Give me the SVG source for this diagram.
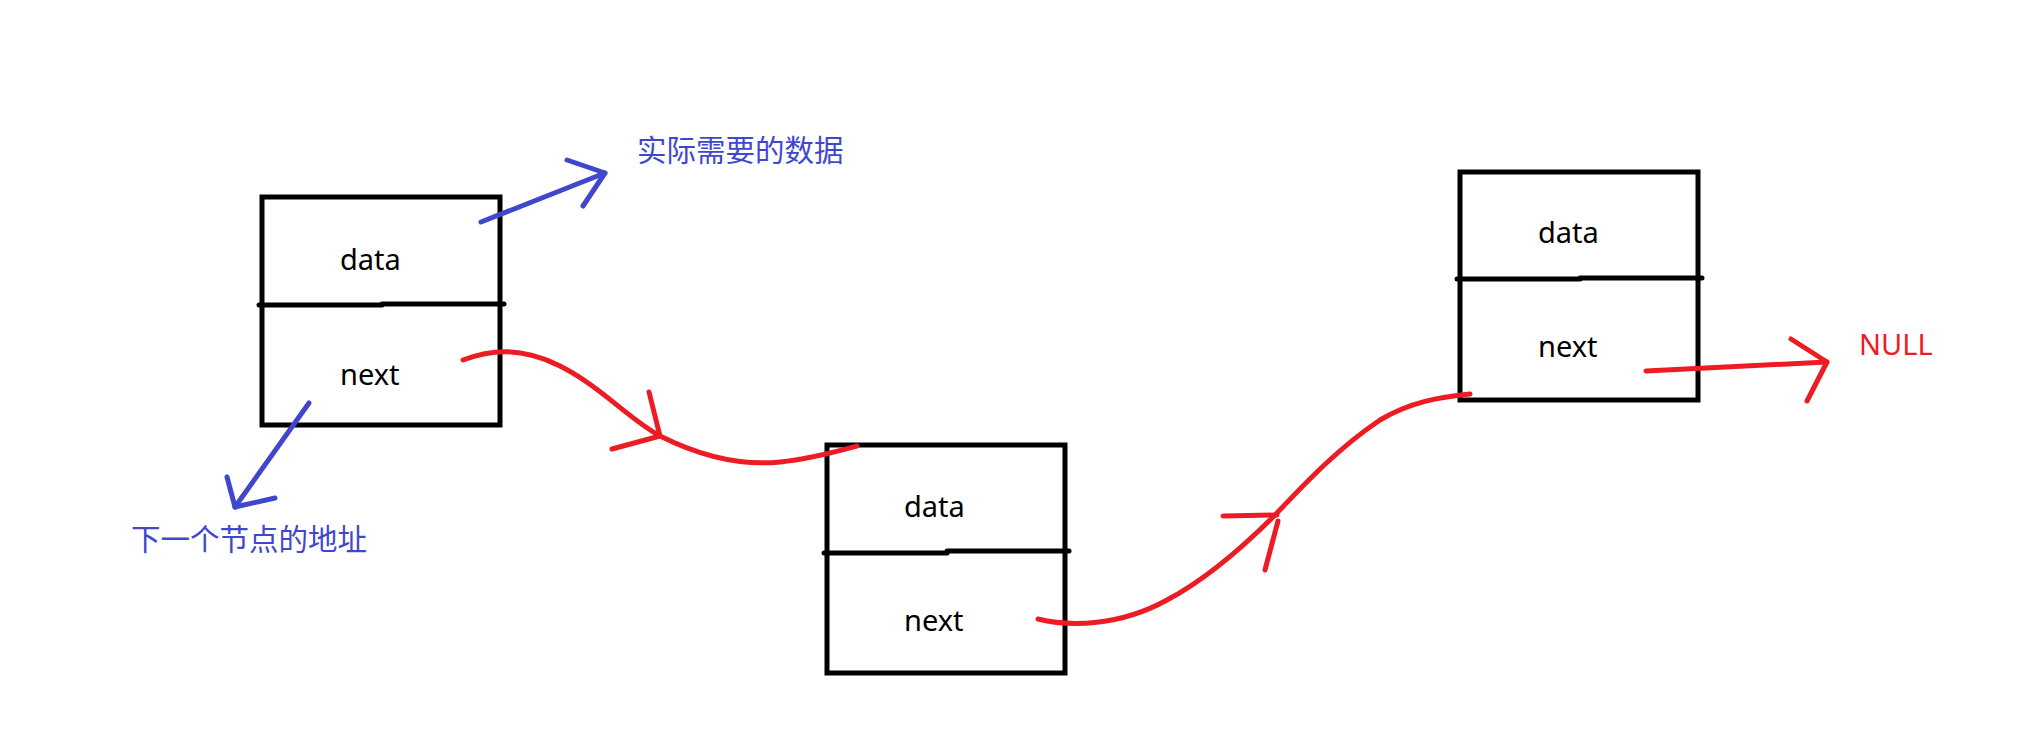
<svg xmlns="http://www.w3.org/2000/svg" width="2031" height="729" viewBox="0 0 2031 729">
<style>
.box{fill:none;stroke:#000;stroke-width:5}
.div{stroke:#000;stroke-width:5;stroke-linecap:round}
.t{font-family:"Noto Sans","Noto Sans CJK SC",sans-serif;font-size:29px;fill:#000}
.cn{font-family:"Noto Sans CJK SC",sans-serif;font-size:29.5px;fill:#3F48CC}
.null{font-family:"Noto Sans","Noto Sans CJK SC",sans-serif;font-size:29px;fill:#ED1C24}
.blue{fill:none;stroke:#3F48CC;stroke-width:5;stroke-linecap:round;stroke-linejoin:round}
.red{fill:none;stroke:#ED1C24;stroke-width:5;stroke-linecap:round;stroke-linejoin:round}
</style>
<rect width="2031" height="729" fill="#fff"/>
<g id="node1">
<rect class="box" x="262" y="197" width="238" height="228"/>
<line class="div" x1="259" y1="305" x2="382" y2="305"/>
<line class="div" x1="382" y1="304" x2="504" y2="304"/>
<text class="t" x="340" y="270">data</text>
<text class="t" x="340" y="385">next</text>
</g>
<g id="node2">
<rect class="box" x="827" y="445" width="238" height="228"/>
<line class="div" x1="824" y1="553" x2="947" y2="553"/>
<line class="div" x1="947" y1="551" x2="1069" y2="551"/>
<text class="t" x="904" y="517">data</text>
<text class="t" x="904" y="631">next</text>
</g>
<g id="node3">
<rect class="box" x="1460" y="172" width="238" height="228"/>
<line class="div" x1="1457" y1="279" x2="1580" y2="279"/>
<line class="div" x1="1580" y1="278" x2="1702" y2="278"/>
<text class="t" x="1538" y="243">data</text>
<text class="t" x="1538" y="357">next</text>
</g>
<g id="label-data">
<text class="cn" x="637" y="161">实际需要的数据</text>
</g>
<g id="label-next">
<text class="cn" x="131" y="550">下一个节点的地址</text>
</g>
<g id="label-null">
<text class="null" x="1859" y="355">NULL</text>
</g>
<g id="connectors">
<path class="blue" d="M481,222 L605,173"/>
<path class="blue" d="M567,160 L605,173 L583,206"/>
<path class="blue" d="M309,403 L235,507"/>
<path class="blue" d="M227,477 L235,507 L275,498"/>
<path class="red" d="M463,360 C490,350 520,346 560,366 C600,386 630,420 660,436 C700,456 740,466 780,462 C810,459 835,452 857,446"/>
<path class="red" d="M649,392 L660,436 L612,449"/>
<path class="red" d="M1038,619 C1070,627 1120,626 1167,600 C1205,580 1240,550 1275,515 C1310,478 1340,447 1380,420 C1410,402 1440,397 1470,394"/>
<path class="red" d="M1223,516 L1277,515"/>
<path class="red" d="M1265,570 L1278,521"/>
<path class="red" d="M1646,371 L1827,362"/>
<path class="red" d="M1791,339 L1827,362 L1807,401"/>
</g>
</svg>
